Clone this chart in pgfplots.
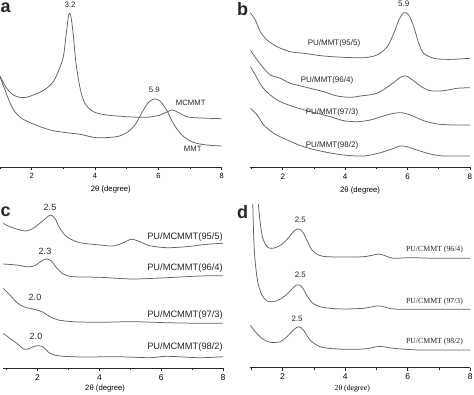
\documentclass[border=0pt]{standalone}
\usepackage{fontspec}
\setmainfont{Liberation Sans}
\newfontfamily\tnr{Liberation Serif}
\usepackage{pgfplots}
\pgfplotsset{compat=1.18}
\newcommand{\fs}[1]{\fontsize{#1}{#1}\selectfont}
\pgfplotsset{
  xrdpanel/.style={
    scale only axis,
    axis x line=bottom, axis y line=none,
    axis line style={-, black!85, line width=0.7pt},
    xmax=8, ymin=0,
    xtick={2,4,6,8}, minor xtick={1,3,5,7},
    tick align=outside, major tick length=3pt, minor tick length=2pt,
    tick style={black!85, line width=0.6pt},
    /pgf/number format/assume math mode=true,
    clip mode=individual,
    cycle list={{black!62}},
    every axis plot post/.append style={black!62, line width=0.75pt, smooth, tension=0.5, mark=none},
  }
}
\begin{document}
\begin{tikzpicture}
\useasboundingbox (0,0) rectangle (474pt,-395pt);
% ---------- panel a ----------
\begin{axis}[xrdpanel, at={(0pt,-167pt)}, anchor=south west,
  width=221.7pt, height=167pt, xmin=1, ymax=167,
  xticklabel style={font=\fs{7.5}},
  xlabel={2θ (degree)}, xlabel style={font=\fs{7.7}, at={(axis description cs:0.5,0)}, anchor=center, yshift=-22.3pt}]
\addplot coordinates {(1.00,91) (1.21,78.7) (1.42,72) (1.63,69.7) (1.84,69.7) (2.05,72) (2.26,74.7) (2.47,78.7) (2.68,85.3) (2.84,95.3) (3.00,110.3) (3.08,130.3) (3.16,150.3) (3.20,153.7) (3.25,148.7) (3.32,130.3) (3.40,103.7) (3.53,78.7) (3.68,63.7) (3.95,55.3) (4.37,52) (5.00,50.3) (5.63,49.7) (6.05,52) (6.42,57) (6.58,55.3) (6.90,50.3) (7.32,49) (8.00,48.3)};
\addplot coordinates {(1.00,90.3) (1.16,77) (1.32,63.7) (1.47,55.3) (1.68,48.7) (2.05,43) (2.58,37) (3.10,34.3) (3.53,32.7) (4.05,29.3) (4.68,30.3) (5.00,34.3) (5.26,42) (5.47,53.7) (5.68,64.3) (5.87,68) (6.05,66) (6.26,57) (6.47,43.7) (6.74,32) (7.10,24.7) (7.53,22) (8.00,21)};
\end{axis}
% ---------- panel b ----------
\begin{axis}[xrdpanel, at={(250.3pt,-167pt)}, anchor=south west,
  width=219.6pt, height=167pt, xmin=0.96, ymax=167,
  xticklabel style={font=\fs{8}},
  xlabel={2θ (degree)}, xlabel style={font=\fs{7.7}, at={(axis description cs:0.5,0)}, anchor=center, yshift=-23.7pt}]
\addplot coordinates {(0.96,154.3) (1.12,147) (1.28,135.3) (1.50,127) (1.82,120.3) (2.24,115.3) (2.67,113.7) (3.31,111) (3.95,109.7) (4.60,109.3) (5.02,112) (5.35,120.3) (5.56,133.7) (5.72,147) (5.88,154.3) (6.04,152) (6.20,140.3) (6.36,123.7) (6.52,113.7) (6.84,108.7) (7.16,107.7) (7.48,107.7) (8.00,108.7)};
\addplot coordinates {(0.96,117) (1.18,107) (1.39,98.7) (1.60,92) (1.92,88.7) (2.24,83.7) (2.67,80.3) (3.31,75.3) (3.74,71) (4.17,69.7) (4.49,71) (5.02,73.7) (5.45,82) (5.77,89.7) (5.93,91) (6.09,88.7) (6.41,81) (6.73,76.3) (7.16,76.3) (7.59,78.7) (8.00,79.3)};
\addplot coordinates {(0.96,100.3) (1.12,92) (1.34,80.3) (1.60,72) (1.92,65.3) (2.35,60.3) (2.89,55.3) (3.53,50.3) (3.95,46.3) (4.38,45.3) (4.81,47) (5.23,51) (5.56,53.7) (5.82,54.3) (6.09,52) (6.52,46.3) (6.95,43) (7.48,42) (8.00,42)};
\addplot coordinates {(0.96,58.7) (1.18,52) (1.39,42) (1.71,33.7) (2.14,27) (2.67,20.3) (3.31,15.3) (3.95,12) (4.60,11) (5.13,14.3) (5.56,18.7) (5.77,21) (5.98,20.3) (6.30,17) (6.73,13) (7.16,11) (8.00,11)};
\end{axis}
% ---------- panel c ----------
\begin{axis}[xrdpanel, at={(3.3pt,-368pt)}, anchor=south west,
  width=219.7pt, height=168pt, xmin=0.89, ymax=168,
  xticklabel style={font=\fs{8.5}},
  xlabel={2θ (degree)}, xlabel style={font=\fs{7.7}, at={(axis description cs:0.5,0)}, anchor=center, yshift=-21pt, xshift=-8pt}]
\addplot coordinates {(0.89,144.7) (1.10,141.3) (1.43,138) (1.64,137) (1.86,139.7) (2.07,144.7) (2.29,150.3) (2.42,153) (2.56,149.7) (2.72,139.7) (2.94,131.3) (3.26,126.3) (3.48,124.7) (4.02,123) (4.45,122) (4.77,125.3) (5.04,128.7) (5.31,126.3) (5.63,122.3) (6.17,120.3) (6.82,121.3) (7.47,123.7) (8.00,124.7)};
\addplot coordinates {(0.89,104) (1.32,103) (1.64,101.3) (1.86,101.7) (2.02,104.7) (2.18,108) (2.29,109) (2.45,107) (2.61,100.3) (2.83,94) (3.15,91.3) (4.02,90.7) (5.09,89) (6.17,90.3) (7.25,92) (8.00,92.3)};
\addplot coordinates {(0.89,79.7) (1.10,73) (1.32,65.7) (1.54,61.3) (1.75,59.7) (1.97,58) (2.18,55.7) (2.40,51.3) (2.67,48) (3.15,46.3) (4.02,45.7) (5.09,46.3) (6.17,45.3) (7.25,44.7) (8.00,44.7)};
\addplot coordinates {(0.89,34.7) (1.10,29.7) (1.37,23.7) (1.54,19) (1.70,19) (1.86,21.3) (2.02,22.3) (2.18,21) (2.40,14.7) (2.72,12) (3.48,11) (4.55,11.3) (5.63,10.3) (6.17,11.7) (7.25,10.3) (8.00,11.3)};
\end{axis}
% ---------- panel d ----------
\begin{axis}[xrdpanel, at={(250.3pt,-367.5pt)}, anchor=south west,
  width=220pt, height=162.5pt, xmin=0.97, ymax=162.5,
  xticklabel style={font=\fs{8.5}},
  xlabel={\tnr 2θ (degree)}, xlabel style={font=\fs{7.7}, at={(axis description cs:0.5,0)}, anchor=center, yshift=-20.8pt, xshift=-8pt}]
\addplot coordinates {(1.21,175) (1.23,162.5) (1.26,152.5) (1.31,139.2) (1.37,129.2) (1.48,121.8) (1.60,119.2) (1.77,119.8) (1.98,123.2) (2.19,129.8) (2.35,135.8) (2.46,138.5) (2.56,138.2) (2.67,134.2) (2.80,125.8) (2.94,117.5) (3.15,112.5) (3.42,110.8) (4.06,110.5) (4.59,110.8) (4.91,112.5) (5.07,113.5) (5.28,111.8) (5.55,109.2) (6.08,109.8) (6.93,109.2) (8.00,109.2)};
\addplot coordinates {(1.04,175) (1.05,162.5) (1.07,139.2) (1.10,115.8) (1.16,95.8) (1.23,82.5) (1.34,72.5) (1.50,66.5) (1.71,65.8) (1.92,68.2) (2.14,73.2) (2.30,78.5) (2.44,82.5) (2.54,82.5) (2.65,79.2) (2.80,70.8) (2.97,64.2) (3.20,60.8) (3.52,59.2) (3.95,58.5) (4.59,59.2) (5.01,61.5) (5.23,60.8) (5.55,58.5) (6.40,58.2) (8.00,58.2)};
\addplot coordinates {(0.97,42.5) (1.13,35.8) (1.34,29.2) (1.61,25.2) (1.93,25.8) (2.14,30.8) (2.35,37.5) (2.51,40.8) (2.67,37.5) (2.88,27.5) (3.20,20.8) (3.74,18.5) (4.59,18.5) (5.01,20.8) (5.23,20.8) (5.55,19.2) (6.40,17.5) (8.00,17.5)};
\end{axis}
% ---------- texts ----------
\begin{scope}[every node/.style={text=black!85, inner sep=0pt}]
\node[anchor=base west, font=\bfseries\fs{18}] at (0.5pt,-13pt) {a};
\node[anchor=base west, font=\bfseries\fs{18}] at (237pt,-15.5pt) {b};
\node[anchor=base west, font=\bfseries\fs{18}] at (0.5pt,-216.7pt) {c};
\node[anchor=base west, font=\bfseries\fs{18}] at (237pt,-219pt) {d};
% a
\node[font=\fs{7.9}] at (70pt,-4.5pt) {3.2};
\node[font=\fs{7.9}] at (154.3pt,-89.3pt) {5.9};
\node[font=\fs{7.7}] at (190.7pt,-103.3pt) {MCMMT};
\node[font=\fs{7.7}] at (192.7pt,-149.3pt) {MMT};
% b
\node[font=\fs{8}] at (403.7pt,-4pt) {5.9};
\node[font=\fs{8}] at (334pt,-43.3pt) {PU/MMT(95/5)};
\node[font=\fs{8}] at (327pt,-80pt) {PU/MMT(96/4)};
\node[font=\fs{8}] at (332pt,-112.3pt) {PU/MMT(97/3)};
\node[font=\fs{8}] at (332pt,-145.7pt) {PU/MMT(98/2)};
% c
\node[font=\fs{9}] at (50pt,-207.7pt) {2.5};
\node[font=\fs{9}] at (45pt,-251.7pt) {2.3};
\node[font=\fs{9}] at (35pt,-297.3pt) {2.0};
\node[font=\fs{9}] at (36pt,-336.7pt) {2.0};
\node[font=\fs{9.3}] at (185pt,-236.7pt) {PU/MCMMT(95/5)};
\node[font=\fs{9.3}] at (185pt,-268.3pt) {PU/MCMMT(96/4)};
\node[font=\fs{9.3}] at (185pt,-315pt) {PU/MCMMT(97/3)};
\node[font=\fs{9.3}] at (185pt,-346.7pt) {PU/MCMMT(98/2)};
% d
\node[font=\fs{7.9}] at (300.3pt,-220pt) {2.5};
\node[font=\fs{7.9}] at (300.3pt,-275pt) {2.5};
\node[font=\fs{7.9}] at (297pt,-319pt) {2.5};
\node[font=\tnr\fs{7.8}] at (434.5pt,-249.3pt) {PU/CMMT (96/4)};
\node[font=\tnr\fs{7.8}] at (434.5pt,-301.7pt) {PU/CMMT (97/3)};
\node[font=\tnr\fs{7.8}] at (434.5pt,-341.7pt) {PU/CMMT (98/2)};
\end{scope}
\end{tikzpicture}
\end{document}
